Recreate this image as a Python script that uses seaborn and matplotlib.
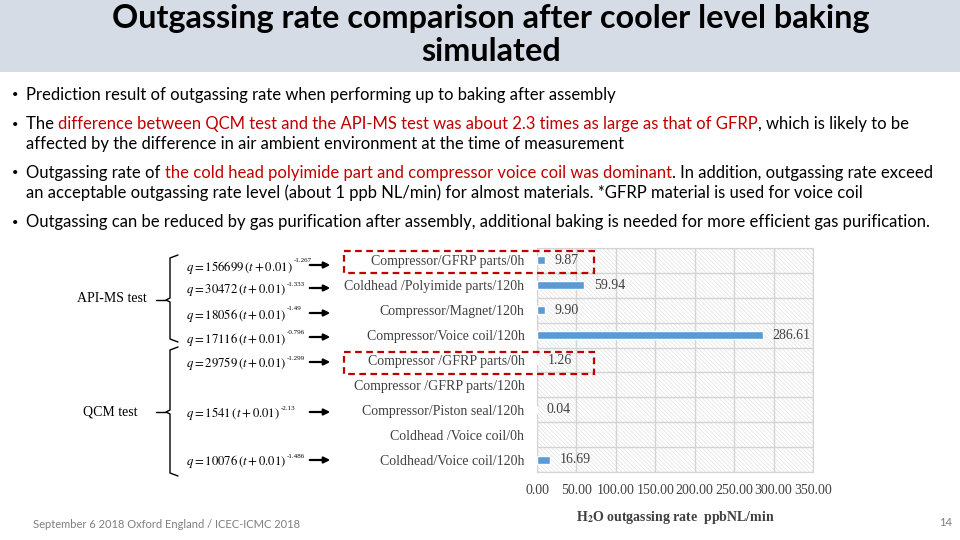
import numpy as np
import pandas as pd
import seaborn as sns
import matplotlib.pyplot as plt
from matplotlib.patches import Rectangle

# chart data
categories = ["Compressor/GFRP parts/0h", "Coldhead /Polyimide parts/120h",
              "Compressor/Magnet/120h", "Compressor/Voice coil/120h",
              "Compressor /GFRP parts/0h", "Compressor /GFRP parts/120h",
              "Compressor/Piston seal/120h", "Coldhead /Voice coil/0h",
              "Coldhead/Voice coil/120h"]
rates = [9.87, 59.94, 9.90, 286.61, 1.26, np.nan, 0.04, np.nan, 16.69]
x_ticks = [0, 50, 100, 150, 200, 250, 300, 350]

# fitted equations (coefficient, exponent)
coefs = ["156699", "30472", "18056", "17116", "29759", "1541", "10076"]
exps = ["-1.267", "-1.333", "-1.49", "-0.796", "-1.299", "-2.13", "-1.486"]
eq_y = [265, 288, 313, 337, 362, 412, 460]

title = "Outgassing rate comparison after cooler level baking\nsimulated"
bullets = [
    [("Prediction result of outgassing rate when performing up to baking after assembly", "k")],
    [("The ", "k"),
     ("difference between QCM test and the API-MS test was about 2.3 times as large as that of GFRP", "#C00000"),
     (", which is likely to be", "k")],
    [("affected by the difference in air ambient environment at the time of measurement", "k")],
    [("Outgassing rate of ", "k"),
     ("the cold head polyimide part and compressor voice coil was dominant", "#C00000"),
     (". In addition, outgassing rate exceed", "k")],
    [("an acceptable outgassing rate level (about 1 ppb NL/min) for almost materials. *GFRP material is used for voice coil", "k")],
    [("Outgassing can be reduced by gas purification after assembly, additional baking is needed for more efficient gas purification.", "k")],
]
bullet_y = [95, 124, 144, 173, 193, 222]
bullet_dot = [True, True, False, True, False, True]

sns.set_style("white")
plt.rcParams["font.family"] = ["Lato", "DejaVu Sans"]
plt.rcParams["text.color"] = "black"
plt.rcParams["mathtext.fontset"] = "stix"
plt.rcParams["hatch.linewidth"] = 0.5
serif = ["Liberation Serif", "DejaVu Serif"]

fig = plt.figure(figsize=(9.6, 5.4), dpi=100)

# bar chart
ax = fig.add_axes([537 / 960, 1 - 472 / 540, 276 / 960, 224 / 540])
df = pd.DataFrame({"part": categories, "rate": rates})
sns.barplot(data=df, x="rate", y="part", order=categories, color="#5B9BD5",
            saturation=1, width=0.32, ax=ax, zorder=3)
for c in ax.containers:
    ax.bar_label(c, fmt=lambda v: "" if np.isnan(v) else f"{v:.2f}", padding=7,
                 fontsize=10, family=serif, color="#404040")
ax.add_patch(Rectangle((0, 0), 1, 1, transform=ax.transAxes, facecolor="white",
                       edgecolor="#E2E2E2", hatch="\\" * 8, lw=0, zorder=0))
ax.set_xlim(0, 350)
ax.set_xticks(x_ticks)
ax.set_xticklabels([f"{v:.2f}" for v in x_ticks], family=serif, fontsize=10, color="#404040")
ax.set_yticks(range(len(categories)))
ax.set_yticklabels(categories, family=serif, fontsize=10, color="#404040")
ax.set_yticks(np.arange(-0.5, len(categories), 1), minor=True)
ax.tick_params(axis="both", which="both", length=0)
ax.tick_params(axis="x", pad=9)
ax.tick_params(axis="y", pad=9)
ax.grid(axis="x", color="#D4D4D4", lw=1, zorder=1)
ax.grid(axis="y", which="minor", color="#D4D4D4", lw=1, zorder=1)
ax.grid(axis="y", which="major", visible=False)
ax.set_ylim(len(categories) - 0.5, -0.5)
for s in ax.spines.values():
    s.set_color("#D4D4D4")
ax.set_ylabel("")
ax.set_xlabel(r"H$_{\mathbf{2}}$O outgassing rate  ppbNL/min", family=serif,
              fontsize=10, fontweight="bold", color="#404040", labelpad=8)

# overlay in pixel coordinates for slide decorations
ov = fig.add_axes([0, 0, 1, 1], zorder=5)
ov.set_xlim(0, 960)
ov.set_ylim(540, 0)
ov.axis("off")
ov.patch.set_alpha(0)

ov.add_patch(Rectangle((0, 0), 960, 72, facecolor="#D6DCE5", lw=0, zorder=0))
ov.text(491, 35, title, ha="center", va="center", fontsize=23.3,
        fontweight="bold", linespacing=1.2, color="black")

for parts, y, dot in zip(bullets, bullet_y, bullet_dot):
    if dot:
        ov.text(12, y, "\u2022", ha="left", va="center", fontsize=8)
    prev = None
    for txt, col in parts:
        if prev is None:
            prev = ov.text(26, y, txt, ha="left", va="center", fontsize=12, color=col)
        else:
            prev = ov.annotate(txt, xy=(1, 0), xycoords=prev, va="bottom",
                               fontsize=12, color=col)

for co, ex, y in zip(coefs, exps, eq_y):
    base = ov.text(186, y + 2, rf"$q = {co}\,(t+0.01)$", ha="left", va="center", fontsize=9.2)
    ov.annotate(ex, xy=(1, 1), xycoords=base, xytext=(0.5, 0), textcoords="offset points",
                va="top", ha="left", fontsize=5, family=serif)
    ov.annotate("", xy=(333, y), xytext=(307, y),
                arrowprops=dict(arrowstyle="-|>", color="black", lw=1.6, mutation_scale=9))

# braces
def brace(top, bottom, mid, x=170):
    ov.plot([x + 8, x, x, x - 4, x, x, x + 8],
            [top, top + 3, mid - 2, mid, mid + 2, bottom - 3, bottom], color="black", lw=1)
    ov.plot([x - 14, x - 4], [mid, mid], color="black", lw=1)

brace(255, 342, 300)
brace(347, 476, 412)
ov.text(112, 299, "API-MS test", ha="center", va="center", fontsize=10, family=serif)
ov.text(110, 412, "QCM test", ha="center", va="center", fontsize=10, family=serif)

# red dashed boxes
for y0 in (251, 352):
    ov.add_patch(Rectangle((344, y0), 250, 22, fill=False, edgecolor="#C00000",
                           lw=1.6, ls=(0, (3, 2))))

ov.text(33, 524, "September 6 2018 Oxford England / ICEC-ICMC 2018", ha="left",
        va="center", fontsize=8, color="#7F7F7F")
ov.text(946, 522, "14", ha="center", va="center", fontsize=8, color="#7F7F7F")

fig.savefig("out.png", dpi=100)
